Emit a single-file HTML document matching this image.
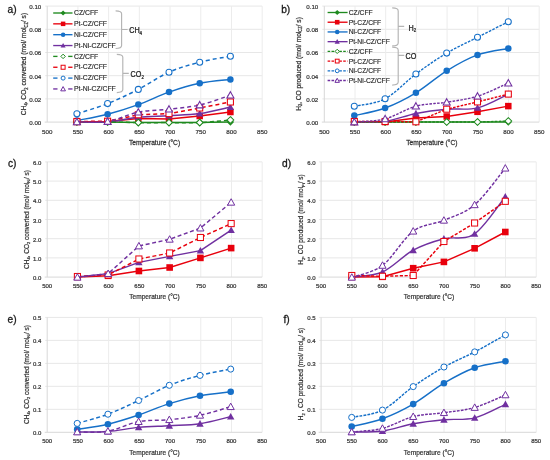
<!DOCTYPE html>
<html><head><meta charset="utf-8"><style>
html,body{margin:0;padding:0;background:#fff;}
svg{display:block;font-family:"Liberation Sans", sans-serif;will-change:transform;}
</style></head><body>
<svg width="550" height="460" viewBox="0 0 550 460">
<rect width="550" height="460" fill="#fff"/>
<line x1="45.2" y1="98.9" x2="262.17" y2="98.9" stroke="#e7e7e7" stroke-width="1"/>
<line x1="45.2" y1="75.7" x2="262.17" y2="75.7" stroke="#e7e7e7" stroke-width="1"/>
<line x1="45.2" y1="52.5" x2="262.17" y2="52.5" stroke="#e7e7e7" stroke-width="1"/>
<line x1="45.2" y1="29.3" x2="262.17" y2="29.3" stroke="#e7e7e7" stroke-width="1"/>
<line x1="45.2" y1="6.1" x2="262.17" y2="6.1" stroke="#e7e7e7" stroke-width="1"/>
<line x1="77.91" y1="6.1" x2="77.91" y2="122.1" stroke="#ececec" stroke-width="1"/>
<line x1="108.62" y1="6.1" x2="108.62" y2="122.1" stroke="#ececec" stroke-width="1"/>
<line x1="139.33" y1="6.1" x2="139.33" y2="122.1" stroke="#ececec" stroke-width="1"/>
<line x1="170.04" y1="6.1" x2="170.04" y2="122.1" stroke="#ececec" stroke-width="1"/>
<line x1="200.75" y1="6.1" x2="200.75" y2="122.1" stroke="#ececec" stroke-width="1"/>
<line x1="231.46" y1="6.1" x2="231.46" y2="122.1" stroke="#ececec" stroke-width="1"/>
<line x1="262.17" y1="6.1" x2="262.17" y2="122.1" stroke="#ececec" stroke-width="1"/>
<line x1="47.2" y1="6.1" x2="47.2" y2="122.1" stroke="#d8d8d8" stroke-width="1"/>
<line x1="44.7" y1="122.1" x2="262.17" y2="122.1" stroke="#d8d8d8" stroke-width="1"/>
<text x="41.3" y="124.9" font-size="6.2" fill="#333333" stroke="#333333" stroke-width="0.2" text-anchor="end" >0.00</text>
<text x="41.3" y="101.7" font-size="6.2" fill="#333333" stroke="#333333" stroke-width="0.2" text-anchor="end" >0.02</text>
<text x="41.3" y="78.5" font-size="6.2" fill="#333333" stroke="#333333" stroke-width="0.2" text-anchor="end" >0.04</text>
<text x="41.3" y="55.3" font-size="6.2" fill="#333333" stroke="#333333" stroke-width="0.2" text-anchor="end" >0.06</text>
<text x="41.3" y="32.1" font-size="6.2" fill="#333333" stroke="#333333" stroke-width="0.2" text-anchor="end" >0.08</text>
<text x="41.3" y="8.9" font-size="6.2" fill="#333333" stroke="#333333" stroke-width="0.2" text-anchor="end" >0.10</text>
<text x="47.2" y="134" font-size="6.2" fill="#333333" stroke="#333333" stroke-width="0.2" text-anchor="middle" >500</text>
<text x="77.91" y="134" font-size="6.2" fill="#333333" stroke="#333333" stroke-width="0.2" text-anchor="middle" >550</text>
<text x="108.62" y="134" font-size="6.2" fill="#333333" stroke="#333333" stroke-width="0.2" text-anchor="middle" >600</text>
<text x="139.33" y="134" font-size="6.2" fill="#333333" stroke="#333333" stroke-width="0.2" text-anchor="middle" >650</text>
<text x="170.04" y="134" font-size="6.2" fill="#333333" stroke="#333333" stroke-width="0.2" text-anchor="middle" >700</text>
<text x="200.75" y="134" font-size="6.2" fill="#333333" stroke="#333333" stroke-width="0.2" text-anchor="middle" >750</text>
<text x="231.46" y="134" font-size="6.2" fill="#333333" stroke="#333333" stroke-width="0.2" text-anchor="middle" >800</text>
<text x="262.17" y="134" font-size="6.2" fill="#333333" stroke="#333333" stroke-width="0.2" text-anchor="middle" >850</text>
<text transform="translate(154.5,145) scale(0.89,1)" font-size="7.504000000000001" fill="#333333" stroke="#333333" stroke-width="0.25" text-anchor="middle" >Temperature (°C)</text>
<text transform="translate(26.2,64) rotate(-90) scale(0.9,1)" font-size="7.37" fill="#333333" stroke="#333333" stroke-width="0.25" text-anchor="middle">CH<tspan font-size="4.5" dy="1.5">4</tspan><tspan dy="-1.5">, CO</tspan><tspan font-size="4.5" dy="1.5">2</tspan><tspan dy="-1.5"> converted (mol/ mol</tspan><tspan font-size="4.5" dy="1.5">CZ</tspan><tspan dy="-1.5">/ s)</tspan></text>
<text x="7.6" y="12.6" font-size="10.2" fill="#1a1a1a" stroke="#1a1a1a" stroke-width="0.3" text-anchor="start" >a)</text>
<path d="M76.9,122 C82.02,122 97.37,121.92 107.6,122 C117.83,122.08 128.07,122.42 138.3,122.5 C148.53,122.58 158.77,122.5 169,122.5 C179.23,122.5 189.47,122.58 199.7,122.5 C209.93,122.42 225.28,122.08 230.4,122" fill="none" stroke="#1f8a1f" stroke-width="1.5" stroke-linejoin="round"/>
<path d="M76.9,118.36 L80.54,122 L76.9,125.64 L73.26,122 Z" fill="#1f8a1f" stroke="#1f8a1f" stroke-width="0"/>
<path d="M107.6,118.36 L111.24,122 L107.6,125.64 L103.96,122 Z" fill="#1f8a1f" stroke="#1f8a1f" stroke-width="0"/>
<path d="M138.3,118.86 L141.94,122.5 L138.3,126.14 L134.66,122.5 Z" fill="#1f8a1f" stroke="#1f8a1f" stroke-width="0"/>
<path d="M169,118.86 L172.64,122.5 L169,126.14 L165.36,122.5 Z" fill="#1f8a1f" stroke="#1f8a1f" stroke-width="0"/>
<path d="M199.7,118.86 L203.34,122.5 L199.7,126.14 L196.06,122.5 Z" fill="#1f8a1f" stroke="#1f8a1f" stroke-width="0"/>
<path d="M230.4,118.36 L234.04,122 L230.4,125.64 L226.76,122 Z" fill="#1f8a1f" stroke="#1f8a1f" stroke-width="0"/>
<path d="M76.9,122 L107.6,121.5 L138.3,118.6 L169,119 L199.7,116 L230.4,112" fill="none" stroke="#e8000c" stroke-width="1.5" stroke-linejoin="round"/>
<rect x="73.65" y="118.75" width="6.5" height="6.5" fill="#e8000c" stroke="#e8000c" stroke-width="0"/>
<rect x="104.35" y="118.25" width="6.5" height="6.5" fill="#e8000c" stroke="#e8000c" stroke-width="0"/>
<rect x="135.05" y="115.35" width="6.5" height="6.5" fill="#e8000c" stroke="#e8000c" stroke-width="0"/>
<rect x="165.75" y="115.75" width="6.5" height="6.5" fill="#e8000c" stroke="#e8000c" stroke-width="0"/>
<rect x="196.45" y="112.75" width="6.5" height="6.5" fill="#e8000c" stroke="#e8000c" stroke-width="0"/>
<rect x="227.15" y="108.75" width="6.5" height="6.5" fill="#e8000c" stroke="#e8000c" stroke-width="0"/>
<path d="M76.9,120.5 C82.02,119.45 97.37,116.85 107.6,114.2 C117.83,111.55 128.07,108.28 138.3,104.6 C148.53,100.92 158.77,95.65 169,92.1 C179.23,88.55 189.47,85.4 199.7,83.3 C209.93,81.2 225.28,80.13 230.4,79.5" fill="none" stroke="#1670c8" stroke-width="1.5" stroke-linejoin="round"/>
<circle cx="76.9" cy="120.5" r="3.25" fill="#1670c8" stroke="#1670c8" stroke-width="0"/>
<circle cx="107.6" cy="114.2" r="3.25" fill="#1670c8" stroke="#1670c8" stroke-width="0"/>
<circle cx="138.3" cy="104.6" r="3.25" fill="#1670c8" stroke="#1670c8" stroke-width="0"/>
<circle cx="169" cy="92.1" r="3.25" fill="#1670c8" stroke="#1670c8" stroke-width="0"/>
<circle cx="199.7" cy="83.3" r="3.25" fill="#1670c8" stroke="#1670c8" stroke-width="0"/>
<circle cx="230.4" cy="79.5" r="3.25" fill="#1670c8" stroke="#1670c8" stroke-width="0"/>
<path d="M76.9,122 C82.02,122 97.37,122.8 107.6,122 C117.83,121.2 128.07,118.25 138.3,117.2 C148.53,116.15 158.77,116.3 169,115.7 C179.23,115.1 189.47,115.03 199.7,113.6 C209.93,112.17 225.28,108.18 230.4,107.1" fill="none" stroke="#7030a0" stroke-width="1.5" stroke-linejoin="round"/>
<path d="M76.9,118.36 L80.54,124.91 L73.26,124.91 Z" fill="#7030a0" stroke="#7030a0" stroke-width="0" stroke-linejoin="miter"/>
<path d="M107.6,118.36 L111.24,124.91 L103.96,124.91 Z" fill="#7030a0" stroke="#7030a0" stroke-width="0" stroke-linejoin="miter"/>
<path d="M138.3,113.56 L141.94,120.11 L134.66,120.11 Z" fill="#7030a0" stroke="#7030a0" stroke-width="0" stroke-linejoin="miter"/>
<path d="M169,112.06 L172.64,118.61 L165.36,118.61 Z" fill="#7030a0" stroke="#7030a0" stroke-width="0" stroke-linejoin="miter"/>
<path d="M199.7,109.96 L203.34,116.51 L196.06,116.51 Z" fill="#7030a0" stroke="#7030a0" stroke-width="0" stroke-linejoin="miter"/>
<path d="M230.4,103.46 L234.04,110.01 L226.76,110.01 Z" fill="#7030a0" stroke="#7030a0" stroke-width="0" stroke-linejoin="miter"/>
<path d="M76.9,122 C82.02,122 97.37,121.9 107.6,122 C117.83,122.1 128.07,122.5 138.3,122.6 C148.53,122.7 158.77,122.6 169,122.6 C179.23,122.6 189.47,123.03 199.7,122.6 C209.93,122.17 225.28,120.43 230.4,120" fill="none" stroke="#1f8a1f" stroke-width="1.5" stroke-dasharray="4,3" stroke-linejoin="round"/>
<path d="M76.9,118.62 L80.28,122 L76.9,125.38 L73.52,122 Z" fill="#fff" stroke="#1f8a1f" stroke-width="1.05"/>
<path d="M107.6,118.62 L110.98,122 L107.6,125.38 L104.22,122 Z" fill="#fff" stroke="#1f8a1f" stroke-width="1.05"/>
<path d="M138.3,119.22 L141.68,122.6 L138.3,125.98 L134.92,122.6 Z" fill="#fff" stroke="#1f8a1f" stroke-width="1.05"/>
<path d="M169,119.22 L172.38,122.6 L169,125.98 L165.62,122.6 Z" fill="#fff" stroke="#1f8a1f" stroke-width="1.05"/>
<path d="M199.7,119.22 L203.08,122.6 L199.7,125.98 L196.32,122.6 Z" fill="#fff" stroke="#1f8a1f" stroke-width="1.05"/>
<path d="M230.4,116.62 L233.78,120 L230.4,123.38 L227.02,120 Z" fill="#fff" stroke="#1f8a1f" stroke-width="1.05"/>
<path d="M76.9,121.5 L107.6,121.2 L138.3,114.8 L169,113.6 L199.7,108 L230.4,102" fill="none" stroke="#e8000c" stroke-width="1.5" stroke-dasharray="4,3" stroke-linejoin="round"/>
<rect x="73.88" y="118.47" width="6.05" height="6.05" fill="#fff" stroke="#e8000c" stroke-width="1.05"/>
<rect x="104.58" y="118.17" width="6.05" height="6.05" fill="#fff" stroke="#e8000c" stroke-width="1.05"/>
<rect x="135.28" y="111.77" width="6.05" height="6.05" fill="#fff" stroke="#e8000c" stroke-width="1.05"/>
<rect x="165.97" y="110.57" width="6.05" height="6.05" fill="#fff" stroke="#e8000c" stroke-width="1.05"/>
<rect x="196.67" y="104.97" width="6.05" height="6.05" fill="#fff" stroke="#e8000c" stroke-width="1.05"/>
<rect x="227.38" y="98.97" width="6.05" height="6.05" fill="#fff" stroke="#e8000c" stroke-width="1.05"/>
<path d="M76.9,113.8 C82.02,112.1 97.37,107.67 107.6,103.6 C117.83,99.53 128.07,94.63 138.3,89.4 C148.53,84.17 158.77,76.73 169,72.2 C179.23,67.67 189.47,64.87 199.7,62.2 C209.93,59.53 225.28,57.2 230.4,56.2" fill="none" stroke="#1670c8" stroke-width="1.5" stroke-dasharray="4,3" stroke-linejoin="round"/>
<circle cx="76.9" cy="113.8" r="3.02" fill="#fff" stroke="#1670c8" stroke-width="1.05"/>
<circle cx="107.6" cy="103.6" r="3.02" fill="#fff" stroke="#1670c8" stroke-width="1.05"/>
<circle cx="138.3" cy="89.4" r="3.02" fill="#fff" stroke="#1670c8" stroke-width="1.05"/>
<circle cx="169" cy="72.2" r="3.02" fill="#fff" stroke="#1670c8" stroke-width="1.05"/>
<circle cx="199.7" cy="62.2" r="3.02" fill="#fff" stroke="#1670c8" stroke-width="1.05"/>
<circle cx="230.4" cy="56.2" r="3.02" fill="#fff" stroke="#1670c8" stroke-width="1.05"/>
<path d="M76.9,121.8 C82.02,121.75 97.37,123.1 107.6,121.5 C117.83,119.9 128.07,114.25 138.3,112.2 C148.53,110.15 158.77,110.4 169,109.2 C179.23,108 189.47,107.33 199.7,105 C209.93,102.67 225.28,96.83 230.4,95.2" fill="none" stroke="#7030a0" stroke-width="1.5" stroke-dasharray="4,3" stroke-linejoin="round"/>
<path d="M76.9,118.24 L80.46,124.65 L73.34,124.65 Z" fill="#fff" stroke="#7030a0" stroke-width="1.05" stroke-linejoin="miter"/>
<path d="M107.6,117.94 L111.16,124.35 L104.04,124.35 Z" fill="#fff" stroke="#7030a0" stroke-width="1.05" stroke-linejoin="miter"/>
<path d="M138.3,108.64 L141.86,115.05 L134.74,115.05 Z" fill="#fff" stroke="#7030a0" stroke-width="1.05" stroke-linejoin="miter"/>
<path d="M169,105.64 L172.56,112.05 L165.44,112.05 Z" fill="#fff" stroke="#7030a0" stroke-width="1.05" stroke-linejoin="miter"/>
<path d="M199.7,101.44 L203.26,107.85 L196.14,107.85 Z" fill="#fff" stroke="#7030a0" stroke-width="1.05" stroke-linejoin="miter"/>
<path d="M230.4,91.64 L233.96,98.05 L226.84,98.05 Z" fill="#fff" stroke="#7030a0" stroke-width="1.05" stroke-linejoin="miter"/>
<line x1="322.3" y1="98.9" x2="539.2" y2="98.9" stroke="#e7e7e7" stroke-width="1"/>
<line x1="322.3" y1="75.7" x2="539.2" y2="75.7" stroke="#e7e7e7" stroke-width="1"/>
<line x1="322.3" y1="52.5" x2="539.2" y2="52.5" stroke="#e7e7e7" stroke-width="1"/>
<line x1="322.3" y1="29.3" x2="539.2" y2="29.3" stroke="#e7e7e7" stroke-width="1"/>
<line x1="322.3" y1="6.1" x2="539.2" y2="6.1" stroke="#e7e7e7" stroke-width="1"/>
<line x1="355" y1="6.1" x2="355" y2="122.1" stroke="#ececec" stroke-width="1"/>
<line x1="385.7" y1="6.1" x2="385.7" y2="122.1" stroke="#ececec" stroke-width="1"/>
<line x1="416.4" y1="6.1" x2="416.4" y2="122.1" stroke="#ececec" stroke-width="1"/>
<line x1="447.1" y1="6.1" x2="447.1" y2="122.1" stroke="#ececec" stroke-width="1"/>
<line x1="477.8" y1="6.1" x2="477.8" y2="122.1" stroke="#ececec" stroke-width="1"/>
<line x1="508.5" y1="6.1" x2="508.5" y2="122.1" stroke="#ececec" stroke-width="1"/>
<line x1="539.2" y1="6.1" x2="539.2" y2="122.1" stroke="#ececec" stroke-width="1"/>
<line x1="324.3" y1="6.1" x2="324.3" y2="122.1" stroke="#d8d8d8" stroke-width="1"/>
<line x1="321.8" y1="122.1" x2="539.2" y2="122.1" stroke="#d8d8d8" stroke-width="1"/>
<text x="318.3" y="124.9" font-size="6.2" fill="#333333" stroke="#333333" stroke-width="0.2" text-anchor="end" >0.00</text>
<text x="318.3" y="101.7" font-size="6.2" fill="#333333" stroke="#333333" stroke-width="0.2" text-anchor="end" >0.02</text>
<text x="318.3" y="78.5" font-size="6.2" fill="#333333" stroke="#333333" stroke-width="0.2" text-anchor="end" >0.04</text>
<text x="318.3" y="55.3" font-size="6.2" fill="#333333" stroke="#333333" stroke-width="0.2" text-anchor="end" >0.06</text>
<text x="318.3" y="32.1" font-size="6.2" fill="#333333" stroke="#333333" stroke-width="0.2" text-anchor="end" >0.08</text>
<text x="318.3" y="8.9" font-size="6.2" fill="#333333" stroke="#333333" stroke-width="0.2" text-anchor="end" >0.10</text>
<text x="324.3" y="134" font-size="6.2" fill="#333333" stroke="#333333" stroke-width="0.2" text-anchor="middle" >500</text>
<text x="355" y="134" font-size="6.2" fill="#333333" stroke="#333333" stroke-width="0.2" text-anchor="middle" >550</text>
<text x="385.7" y="134" font-size="6.2" fill="#333333" stroke="#333333" stroke-width="0.2" text-anchor="middle" >600</text>
<text x="416.4" y="134" font-size="6.2" fill="#333333" stroke="#333333" stroke-width="0.2" text-anchor="middle" >650</text>
<text x="447.1" y="134" font-size="6.2" fill="#333333" stroke="#333333" stroke-width="0.2" text-anchor="middle" >700</text>
<text x="477.8" y="134" font-size="6.2" fill="#333333" stroke="#333333" stroke-width="0.2" text-anchor="middle" >750</text>
<text x="508.5" y="134" font-size="6.2" fill="#333333" stroke="#333333" stroke-width="0.2" text-anchor="middle" >800</text>
<text x="539.2" y="134" font-size="6.2" fill="#333333" stroke="#333333" stroke-width="0.2" text-anchor="middle" >850</text>
<text transform="translate(431.8,145) scale(0.89,1)" font-size="7.504000000000001" fill="#333333" stroke="#333333" stroke-width="0.25" text-anchor="middle" >Temperature (°C)</text>
<text transform="translate(300.8,64) rotate(-90) scale(0.9,1)" font-size="7.37" fill="#333333" stroke="#333333" stroke-width="0.25" text-anchor="middle">H<tspan font-size="4.5" dy="1.5">2</tspan><tspan dy="-1.5">, CO produced (mol/ mol</tspan><tspan font-size="4.5" dy="1.5">CZ</tspan><tspan dy="-1.5">/ s)</tspan></text>
<text x="281.2" y="12.6" font-size="10.2" fill="#1a1a1a" stroke="#1a1a1a" stroke-width="0.3" text-anchor="start" >b)</text>
<path d="M354.3,122 C359.43,122 374.83,122 385.1,122 C395.37,122 405.63,122 415.9,122 C426.17,122 436.43,122 446.7,122 C456.97,122 467.23,122 477.5,122 C487.77,122 503.17,122 508.3,122" fill="none" stroke="#1f8a1f" stroke-width="1.4" stroke-linejoin="round"/>
<path d="M354.3,118.36 L357.94,122 L354.3,125.64 L350.66,122 Z" fill="#1f8a1f" stroke="#1f8a1f" stroke-width="0"/>
<path d="M385.1,118.36 L388.74,122 L385.1,125.64 L381.46,122 Z" fill="#1f8a1f" stroke="#1f8a1f" stroke-width="0"/>
<path d="M415.9,118.36 L419.54,122 L415.9,125.64 L412.26,122 Z" fill="#1f8a1f" stroke="#1f8a1f" stroke-width="0"/>
<path d="M446.7,118.36 L450.34,122 L446.7,125.64 L443.06,122 Z" fill="#1f8a1f" stroke="#1f8a1f" stroke-width="0"/>
<path d="M477.5,118.36 L481.14,122 L477.5,125.64 L473.86,122 Z" fill="#1f8a1f" stroke="#1f8a1f" stroke-width="0"/>
<path d="M508.3,118.36 L511.94,122 L508.3,125.64 L504.66,122 Z" fill="#1f8a1f" stroke="#1f8a1f" stroke-width="0"/>
<path d="M354.3,122 L385.1,122 L415.9,118 L446.7,116.5 L477.5,111.8 L508.3,106.1" fill="none" stroke="#e8000c" stroke-width="1.4" stroke-linejoin="round"/>
<rect x="351.05" y="118.75" width="6.5" height="6.5" fill="#e8000c" stroke="#e8000c" stroke-width="0"/>
<rect x="381.85" y="118.75" width="6.5" height="6.5" fill="#e8000c" stroke="#e8000c" stroke-width="0"/>
<rect x="412.65" y="114.75" width="6.5" height="6.5" fill="#e8000c" stroke="#e8000c" stroke-width="0"/>
<rect x="443.45" y="113.25" width="6.5" height="6.5" fill="#e8000c" stroke="#e8000c" stroke-width="0"/>
<rect x="474.25" y="108.55" width="6.5" height="6.5" fill="#e8000c" stroke="#e8000c" stroke-width="0"/>
<rect x="505.05" y="102.85" width="6.5" height="6.5" fill="#e8000c" stroke="#e8000c" stroke-width="0"/>
<path d="M354.3,115.6 C359.43,114.33 374.83,111.8 385.1,108 C395.37,104.2 405.63,99 415.9,92.8 C426.17,86.6 436.43,77.12 446.7,70.8 C456.97,64.48 467.23,58.62 477.5,54.9 C487.77,51.18 503.17,49.57 508.3,48.5" fill="none" stroke="#1670c8" stroke-width="1.4" stroke-linejoin="round"/>
<circle cx="354.3" cy="115.6" r="3.25" fill="#1670c8" stroke="#1670c8" stroke-width="0"/>
<circle cx="385.1" cy="108" r="3.25" fill="#1670c8" stroke="#1670c8" stroke-width="0"/>
<circle cx="415.9" cy="92.8" r="3.25" fill="#1670c8" stroke="#1670c8" stroke-width="0"/>
<circle cx="446.7" cy="70.8" r="3.25" fill="#1670c8" stroke="#1670c8" stroke-width="0"/>
<circle cx="477.5" cy="54.9" r="3.25" fill="#1670c8" stroke="#1670c8" stroke-width="0"/>
<circle cx="508.3" cy="48.5" r="3.25" fill="#1670c8" stroke="#1670c8" stroke-width="0"/>
<path d="M354.3,122 C359.43,121.92 374.83,122.92 385.1,121.5 C395.37,120.08 405.63,115.55 415.9,113.5 C426.17,111.45 436.43,110.13 446.7,109.2 C456.97,108.27 467.23,110.42 477.5,107.9 C487.77,105.38 503.17,96.4 508.3,94.1" fill="none" stroke="#7030a0" stroke-width="1.4" stroke-linejoin="round"/>
<path d="M354.3,118.36 L357.94,124.91 L350.66,124.91 Z" fill="#7030a0" stroke="#7030a0" stroke-width="0" stroke-linejoin="miter"/>
<path d="M385.1,117.86 L388.74,124.41 L381.46,124.41 Z" fill="#7030a0" stroke="#7030a0" stroke-width="0" stroke-linejoin="miter"/>
<path d="M415.9,109.86 L419.54,116.41 L412.26,116.41 Z" fill="#7030a0" stroke="#7030a0" stroke-width="0" stroke-linejoin="miter"/>
<path d="M446.7,105.56 L450.34,112.11 L443.06,112.11 Z" fill="#7030a0" stroke="#7030a0" stroke-width="0" stroke-linejoin="miter"/>
<path d="M477.5,104.26 L481.14,110.81 L473.86,110.81 Z" fill="#7030a0" stroke="#7030a0" stroke-width="0" stroke-linejoin="miter"/>
<path d="M508.3,90.46 L511.94,97.01 L504.66,97.01 Z" fill="#7030a0" stroke="#7030a0" stroke-width="0" stroke-linejoin="miter"/>
<path d="M354.3,122 C359.43,122 374.83,122 385.1,122 C395.37,122 405.63,122 415.9,122 C426.17,122 436.43,122 446.7,122 C456.97,122 467.23,122.17 477.5,122 C487.77,121.83 503.17,121.17 508.3,121" fill="none" stroke="#1f8a1f" stroke-width="1.4" stroke-dasharray="2.6,1.3" stroke-linejoin="round"/>
<path d="M354.3,118.62 L357.68,122 L354.3,125.38 L350.92,122 Z" fill="#fff" stroke="#1f8a1f" stroke-width="1.05"/>
<path d="M385.1,118.62 L388.48,122 L385.1,125.38 L381.72,122 Z" fill="#fff" stroke="#1f8a1f" stroke-width="1.05"/>
<path d="M415.9,118.62 L419.28,122 L415.9,125.38 L412.52,122 Z" fill="#fff" stroke="#1f8a1f" stroke-width="1.05"/>
<path d="M446.7,118.62 L450.08,122 L446.7,125.38 L443.32,122 Z" fill="#fff" stroke="#1f8a1f" stroke-width="1.05"/>
<path d="M477.5,118.62 L480.88,122 L477.5,125.38 L474.12,122 Z" fill="#fff" stroke="#1f8a1f" stroke-width="1.05"/>
<path d="M508.3,117.62 L511.68,121 L508.3,124.38 L504.92,121 Z" fill="#fff" stroke="#1f8a1f" stroke-width="1.05"/>
<path d="M354.3,121.5 L385.1,121.5 L415.9,121.8 L446.7,109.2 L477.5,101.9 L508.3,94.1" fill="none" stroke="#e8000c" stroke-width="1.4" stroke-dasharray="2.6,1.3" stroke-linejoin="round"/>
<rect x="351.28" y="118.47" width="6.05" height="6.05" fill="#fff" stroke="#e8000c" stroke-width="1.05"/>
<rect x="382.08" y="118.47" width="6.05" height="6.05" fill="#fff" stroke="#e8000c" stroke-width="1.05"/>
<rect x="412.88" y="118.77" width="6.05" height="6.05" fill="#fff" stroke="#e8000c" stroke-width="1.05"/>
<rect x="443.68" y="106.17" width="6.05" height="6.05" fill="#fff" stroke="#e8000c" stroke-width="1.05"/>
<rect x="474.48" y="98.88" width="6.05" height="6.05" fill="#fff" stroke="#e8000c" stroke-width="1.05"/>
<rect x="505.28" y="91.07" width="6.05" height="6.05" fill="#fff" stroke="#e8000c" stroke-width="1.05"/>
<path d="M354.3,106.3 C359.43,105.05 374.83,104.18 385.1,98.8 C395.37,93.42 405.63,81.62 415.9,74 C426.17,66.38 436.43,59.22 446.7,53.1 C456.97,46.98 467.23,42.53 477.5,37.3 C487.77,32.07 503.17,24.3 508.3,21.7" fill="none" stroke="#1670c8" stroke-width="1.4" stroke-dasharray="2.6,1.3" stroke-linejoin="round"/>
<circle cx="354.3" cy="106.3" r="3.02" fill="#fff" stroke="#1670c8" stroke-width="1.05"/>
<circle cx="385.1" cy="98.8" r="3.02" fill="#fff" stroke="#1670c8" stroke-width="1.05"/>
<circle cx="415.9" cy="74" r="3.02" fill="#fff" stroke="#1670c8" stroke-width="1.05"/>
<circle cx="446.7" cy="53.1" r="3.02" fill="#fff" stroke="#1670c8" stroke-width="1.05"/>
<circle cx="477.5" cy="37.3" r="3.02" fill="#fff" stroke="#1670c8" stroke-width="1.05"/>
<circle cx="508.3" cy="21.7" r="3.02" fill="#fff" stroke="#1670c8" stroke-width="1.05"/>
<path d="M354.3,122 C359.43,121.48 374.83,121.53 385.1,118.9 C395.37,116.27 405.63,108.98 415.9,106.2 C426.17,103.42 436.43,103.87 446.7,102.2 C456.97,100.53 467.23,99.38 477.5,96.2 C487.77,93.02 503.17,85.28 508.3,83.1" fill="none" stroke="#7030a0" stroke-width="1.4" stroke-dasharray="2.6,1.3" stroke-linejoin="round"/>
<path d="M354.3,118.44 L357.86,124.85 L350.74,124.85 Z" fill="#fff" stroke="#7030a0" stroke-width="1.05" stroke-linejoin="miter"/>
<path d="M385.1,115.34 L388.66,121.75 L381.54,121.75 Z" fill="#fff" stroke="#7030a0" stroke-width="1.05" stroke-linejoin="miter"/>
<path d="M415.9,102.64 L419.46,109.05 L412.34,109.05 Z" fill="#fff" stroke="#7030a0" stroke-width="1.05" stroke-linejoin="miter"/>
<path d="M446.7,98.64 L450.26,105.05 L443.14,105.05 Z" fill="#fff" stroke="#7030a0" stroke-width="1.05" stroke-linejoin="miter"/>
<path d="M477.5,92.64 L481.06,99.05 L473.94,99.05 Z" fill="#fff" stroke="#7030a0" stroke-width="1.05" stroke-linejoin="miter"/>
<path d="M508.3,79.54 L511.86,85.95 L504.74,85.95 Z" fill="#fff" stroke="#7030a0" stroke-width="1.05" stroke-linejoin="miter"/>
<line x1="45.2" y1="257.9" x2="262.17" y2="257.9" stroke="#e7e7e7" stroke-width="1"/>
<line x1="45.2" y1="238.7" x2="262.17" y2="238.7" stroke="#e7e7e7" stroke-width="1"/>
<line x1="45.2" y1="219.5" x2="262.17" y2="219.5" stroke="#e7e7e7" stroke-width="1"/>
<line x1="45.2" y1="200.3" x2="262.17" y2="200.3" stroke="#e7e7e7" stroke-width="1"/>
<line x1="45.2" y1="181.1" x2="262.17" y2="181.1" stroke="#e7e7e7" stroke-width="1"/>
<line x1="45.2" y1="161.9" x2="262.17" y2="161.9" stroke="#e7e7e7" stroke-width="1"/>
<line x1="77.91" y1="161.9" x2="77.91" y2="277.1" stroke="#ececec" stroke-width="1"/>
<line x1="108.62" y1="161.9" x2="108.62" y2="277.1" stroke="#ececec" stroke-width="1"/>
<line x1="139.33" y1="161.9" x2="139.33" y2="277.1" stroke="#ececec" stroke-width="1"/>
<line x1="170.04" y1="161.9" x2="170.04" y2="277.1" stroke="#ececec" stroke-width="1"/>
<line x1="200.75" y1="161.9" x2="200.75" y2="277.1" stroke="#ececec" stroke-width="1"/>
<line x1="231.46" y1="161.9" x2="231.46" y2="277.1" stroke="#ececec" stroke-width="1"/>
<line x1="262.17" y1="161.9" x2="262.17" y2="277.1" stroke="#ececec" stroke-width="1"/>
<line x1="47.2" y1="161.9" x2="47.2" y2="277.1" stroke="#d8d8d8" stroke-width="1"/>
<line x1="44.7" y1="277.1" x2="262.17" y2="277.1" stroke="#d8d8d8" stroke-width="1"/>
<text x="41.3" y="280.1" font-size="6.0" fill="#333333" stroke="#333333" stroke-width="0.22" text-anchor="end" >0.0</text>
<text x="41.3" y="260.9" font-size="6.0" fill="#333333" stroke="#333333" stroke-width="0.22" text-anchor="end" >1.0</text>
<text x="41.3" y="241.7" font-size="6.0" fill="#333333" stroke="#333333" stroke-width="0.22" text-anchor="end" >2.0</text>
<text x="41.3" y="222.5" font-size="6.0" fill="#333333" stroke="#333333" stroke-width="0.22" text-anchor="end" >3.0</text>
<text x="41.3" y="203.3" font-size="6.0" fill="#333333" stroke="#333333" stroke-width="0.22" text-anchor="end" >4.0</text>
<text x="41.3" y="184.1" font-size="6.0" fill="#333333" stroke="#333333" stroke-width="0.22" text-anchor="end" >5.0</text>
<text x="41.3" y="164.9" font-size="6.0" fill="#333333" stroke="#333333" stroke-width="0.22" text-anchor="end" >6.0</text>
<text x="47.2" y="288" font-size="6.0" fill="#333333" stroke="#333333" stroke-width="0.22" text-anchor="middle" >500</text>
<text x="77.91" y="288" font-size="6.0" fill="#333333" stroke="#333333" stroke-width="0.22" text-anchor="middle" >550</text>
<text x="108.62" y="288" font-size="6.0" fill="#333333" stroke="#333333" stroke-width="0.22" text-anchor="middle" >600</text>
<text x="139.33" y="288" font-size="6.0" fill="#333333" stroke="#333333" stroke-width="0.22" text-anchor="middle" >650</text>
<text x="170.04" y="288" font-size="6.0" fill="#333333" stroke="#333333" stroke-width="0.22" text-anchor="middle" >700</text>
<text x="200.75" y="288" font-size="6.0" fill="#333333" stroke="#333333" stroke-width="0.22" text-anchor="middle" >750</text>
<text x="231.46" y="288" font-size="6.0" fill="#333333" stroke="#333333" stroke-width="0.22" text-anchor="middle" >800</text>
<text x="262.17" y="288" font-size="6.0" fill="#333333" stroke="#333333" stroke-width="0.22" text-anchor="middle" >850</text>
<text transform="translate(154.5,298.8) scale(0.89,1)" font-size="7.392" fill="#333333" stroke="#333333" stroke-width="0.22" text-anchor="middle" >Temperature (°C)</text>
<text transform="translate(28.8,219.5) rotate(-90) scale(0.9,1)" font-size="7.26" fill="#333333" stroke="#333333" stroke-width="0.22" text-anchor="middle">CH<tspan font-size="4.3" dy="1.4">4</tspan><tspan dy="-1.4">, CO</tspan><tspan font-size="4.3" dy="1.4">2</tspan><tspan dy="-1.4"> converted (mol/ mol</tspan><tspan font-size="4.3" dy="1.4">Ni</tspan><tspan dy="-1.4">/ s)</tspan></text>
<text x="8" y="167.4" font-size="10.2" fill="#1a1a1a" stroke="#1a1a1a" stroke-width="0.3" text-anchor="start" >c)</text>
<path d="M77.4,277 L108.15,275.8 L138.9,271 L169.65,267.5 L200.4,257.9 L231.15,248.1" fill="none" stroke="#e8000c" stroke-width="1.45" stroke-linejoin="round"/>
<rect x="74.1" y="273.7" width="6.6" height="6.6" fill="#e8000c" stroke="#e8000c" stroke-width="0"/>
<rect x="104.85" y="272.5" width="6.6" height="6.6" fill="#e8000c" stroke="#e8000c" stroke-width="0"/>
<rect x="135.6" y="267.7" width="6.6" height="6.6" fill="#e8000c" stroke="#e8000c" stroke-width="0"/>
<rect x="166.35" y="264.2" width="6.6" height="6.6" fill="#e8000c" stroke="#e8000c" stroke-width="0"/>
<rect x="197.1" y="254.6" width="6.6" height="6.6" fill="#e8000c" stroke="#e8000c" stroke-width="0"/>
<rect x="227.85" y="244.8" width="6.6" height="6.6" fill="#e8000c" stroke="#e8000c" stroke-width="0"/>
<path d="M77.4,277 L108.15,273.6 L138.9,262.4 L169.65,256.4 L200.4,250.6 L231.15,230.1" fill="none" stroke="#7030a0" stroke-width="1.45" stroke-linejoin="round"/>
<path d="M77.4,273.3 L81.1,279.96 L73.7,279.96 Z" fill="#7030a0" stroke="#7030a0" stroke-width="0" stroke-linejoin="miter"/>
<path d="M108.15,269.9 L111.85,276.56 L104.45,276.56 Z" fill="#7030a0" stroke="#7030a0" stroke-width="0" stroke-linejoin="miter"/>
<path d="M138.9,258.7 L142.6,265.36 L135.2,265.36 Z" fill="#7030a0" stroke="#7030a0" stroke-width="0" stroke-linejoin="miter"/>
<path d="M169.65,252.7 L173.35,259.36 L165.95,259.36 Z" fill="#7030a0" stroke="#7030a0" stroke-width="0" stroke-linejoin="miter"/>
<path d="M200.4,246.9 L204.1,253.56 L196.7,253.56 Z" fill="#7030a0" stroke="#7030a0" stroke-width="0" stroke-linejoin="miter"/>
<path d="M231.15,226.4 L234.85,233.06 L227.45,233.06 Z" fill="#7030a0" stroke="#7030a0" stroke-width="0" stroke-linejoin="miter"/>
<path d="M77.4,276.5 L108.15,275 L138.9,259 L169.65,253 L200.4,237.5 L231.15,223.6" fill="none" stroke="#e8000c" stroke-width="1.45" stroke-dasharray="4,2.6" stroke-linejoin="round"/>
<rect x="74.35" y="273.45" width="6.1" height="6.1" fill="#fff" stroke="#e8000c" stroke-width="1.0"/>
<rect x="105.1" y="271.95" width="6.1" height="6.1" fill="#fff" stroke="#e8000c" stroke-width="1.0"/>
<rect x="135.85" y="255.95" width="6.1" height="6.1" fill="#fff" stroke="#e8000c" stroke-width="1.0"/>
<rect x="166.6" y="249.95" width="6.1" height="6.1" fill="#fff" stroke="#e8000c" stroke-width="1.0"/>
<rect x="197.35" y="234.45" width="6.1" height="6.1" fill="#fff" stroke="#e8000c" stroke-width="1.0"/>
<rect x="228.1" y="220.55" width="6.1" height="6.1" fill="#fff" stroke="#e8000c" stroke-width="1.0"/>
<path d="M77.4,277.3 L108.15,273.6 L138.9,246 L169.65,239.3 L200.4,228.1 L231.15,202.3" fill="none" stroke="#7030a0" stroke-width="1.45" stroke-dasharray="4,2.6" stroke-linejoin="round"/>
<path d="M77.4,273.72 L80.98,280.17 L73.82,280.17 Z" fill="#fff" stroke="#7030a0" stroke-width="1.0" stroke-linejoin="miter"/>
<path d="M108.15,270.02 L111.73,276.47 L104.57,276.47 Z" fill="#fff" stroke="#7030a0" stroke-width="1.0" stroke-linejoin="miter"/>
<path d="M138.9,242.42 L142.48,248.87 L135.32,248.87 Z" fill="#fff" stroke="#7030a0" stroke-width="1.0" stroke-linejoin="miter"/>
<path d="M169.65,235.72 L173.23,242.17 L166.07,242.17 Z" fill="#fff" stroke="#7030a0" stroke-width="1.0" stroke-linejoin="miter"/>
<path d="M200.4,224.52 L203.98,230.97 L196.82,230.97 Z" fill="#fff" stroke="#7030a0" stroke-width="1.0" stroke-linejoin="miter"/>
<path d="M231.15,198.72 L234.73,205.17 L227.57,205.17 Z" fill="#fff" stroke="#7030a0" stroke-width="1.0" stroke-linejoin="miter"/>
<line x1="319.1" y1="257.9" x2="536.21" y2="257.9" stroke="#e7e7e7" stroke-width="1"/>
<line x1="319.1" y1="238.7" x2="536.21" y2="238.7" stroke="#e7e7e7" stroke-width="1"/>
<line x1="319.1" y1="219.5" x2="536.21" y2="219.5" stroke="#e7e7e7" stroke-width="1"/>
<line x1="319.1" y1="200.3" x2="536.21" y2="200.3" stroke="#e7e7e7" stroke-width="1"/>
<line x1="319.1" y1="181.1" x2="536.21" y2="181.1" stroke="#e7e7e7" stroke-width="1"/>
<line x1="319.1" y1="161.9" x2="536.21" y2="161.9" stroke="#e7e7e7" stroke-width="1"/>
<line x1="351.83" y1="161.9" x2="351.83" y2="277.1" stroke="#ececec" stroke-width="1"/>
<line x1="382.56" y1="161.9" x2="382.56" y2="277.1" stroke="#ececec" stroke-width="1"/>
<line x1="413.29" y1="161.9" x2="413.29" y2="277.1" stroke="#ececec" stroke-width="1"/>
<line x1="444.02" y1="161.9" x2="444.02" y2="277.1" stroke="#ececec" stroke-width="1"/>
<line x1="474.75" y1="161.9" x2="474.75" y2="277.1" stroke="#ececec" stroke-width="1"/>
<line x1="505.48" y1="161.9" x2="505.48" y2="277.1" stroke="#ececec" stroke-width="1"/>
<line x1="536.21" y1="161.9" x2="536.21" y2="277.1" stroke="#ececec" stroke-width="1"/>
<line x1="321.1" y1="161.9" x2="321.1" y2="277.1" stroke="#d8d8d8" stroke-width="1"/>
<line x1="318.6" y1="277.1" x2="536.21" y2="277.1" stroke="#d8d8d8" stroke-width="1"/>
<text x="315.5" y="280.1" font-size="6.0" fill="#333333" stroke="#333333" stroke-width="0.22" text-anchor="end" >0.0</text>
<text x="315.5" y="260.9" font-size="6.0" fill="#333333" stroke="#333333" stroke-width="0.22" text-anchor="end" >1.0</text>
<text x="315.5" y="241.7" font-size="6.0" fill="#333333" stroke="#333333" stroke-width="0.22" text-anchor="end" >2.0</text>
<text x="315.5" y="222.5" font-size="6.0" fill="#333333" stroke="#333333" stroke-width="0.22" text-anchor="end" >3.0</text>
<text x="315.5" y="203.3" font-size="6.0" fill="#333333" stroke="#333333" stroke-width="0.22" text-anchor="end" >4.0</text>
<text x="315.5" y="184.1" font-size="6.0" fill="#333333" stroke="#333333" stroke-width="0.22" text-anchor="end" >5.0</text>
<text x="315.5" y="164.9" font-size="6.0" fill="#333333" stroke="#333333" stroke-width="0.22" text-anchor="end" >6.0</text>
<text x="321.1" y="288" font-size="6.0" fill="#333333" stroke="#333333" stroke-width="0.22" text-anchor="middle" >500</text>
<text x="351.83" y="288" font-size="6.0" fill="#333333" stroke="#333333" stroke-width="0.22" text-anchor="middle" >550</text>
<text x="382.56" y="288" font-size="6.0" fill="#333333" stroke="#333333" stroke-width="0.22" text-anchor="middle" >600</text>
<text x="413.29" y="288" font-size="6.0" fill="#333333" stroke="#333333" stroke-width="0.22" text-anchor="middle" >650</text>
<text x="444.02" y="288" font-size="6.0" fill="#333333" stroke="#333333" stroke-width="0.22" text-anchor="middle" >700</text>
<text x="474.75" y="288" font-size="6.0" fill="#333333" stroke="#333333" stroke-width="0.22" text-anchor="middle" >750</text>
<text x="505.48" y="288" font-size="6.0" fill="#333333" stroke="#333333" stroke-width="0.22" text-anchor="middle" >800</text>
<text x="536.21" y="288" font-size="6.0" fill="#333333" stroke="#333333" stroke-width="0.22" text-anchor="middle" >850</text>
<text transform="translate(429,298.8) scale(0.89,1)" font-size="7.392" fill="#333333" stroke="#333333" stroke-width="0.22" text-anchor="middle" >Temperature (°C)</text>
<text transform="translate(303.3,219.5) rotate(-90) scale(0.9,1)" font-size="7.26" fill="#333333" stroke="#333333" stroke-width="0.22" text-anchor="middle">H<tspan font-size="4.3" dy="1.4">2</tspan><tspan dy="-1.4">, CO produced (mol/ mol</tspan><tspan font-size="4.3" dy="1.4">Pt</tspan><tspan dy="-1.4">/ s)</tspan></text>
<text x="282" y="167.2" font-size="10.2" fill="#1a1a1a" stroke="#1a1a1a" stroke-width="0.3" text-anchor="start" >d)</text>
<path d="M351.8,277 L382.5,276.8 L413.2,268.2 L443.9,261.9 L474.6,248.3 L505.3,232" fill="none" stroke="#e8000c" stroke-width="1.45" stroke-linejoin="round"/>
<rect x="348.5" y="273.7" width="6.6" height="6.6" fill="#e8000c" stroke="#e8000c" stroke-width="0"/>
<rect x="379.2" y="273.5" width="6.6" height="6.6" fill="#e8000c" stroke="#e8000c" stroke-width="0"/>
<rect x="409.9" y="264.9" width="6.6" height="6.6" fill="#e8000c" stroke="#e8000c" stroke-width="0"/>
<rect x="440.6" y="258.6" width="6.6" height="6.6" fill="#e8000c" stroke="#e8000c" stroke-width="0"/>
<rect x="471.3" y="245" width="6.6" height="6.6" fill="#e8000c" stroke="#e8000c" stroke-width="0"/>
<rect x="502" y="228.7" width="6.6" height="6.6" fill="#e8000c" stroke="#e8000c" stroke-width="0"/>
<path d="M351.8,277 C356.92,276.17 372.27,276.47 382.5,272 C392.73,267.53 402.97,255.73 413.2,250.2 C423.43,244.67 433.67,241.52 443.9,238.8 C454.13,236.08 464.37,240.92 474.6,233.9 C484.83,226.88 500.18,202.9 505.3,196.7" fill="none" stroke="#7030a0" stroke-width="1.45" stroke-linejoin="round"/>
<path d="M351.8,273.3 L355.5,279.96 L348.1,279.96 Z" fill="#7030a0" stroke="#7030a0" stroke-width="0" stroke-linejoin="miter"/>
<path d="M382.5,268.3 L386.2,274.96 L378.8,274.96 Z" fill="#7030a0" stroke="#7030a0" stroke-width="0" stroke-linejoin="miter"/>
<path d="M413.2,246.5 L416.9,253.16 L409.5,253.16 Z" fill="#7030a0" stroke="#7030a0" stroke-width="0" stroke-linejoin="miter"/>
<path d="M443.9,235.1 L447.6,241.76 L440.2,241.76 Z" fill="#7030a0" stroke="#7030a0" stroke-width="0" stroke-linejoin="miter"/>
<path d="M474.6,230.2 L478.3,236.86 L470.9,236.86 Z" fill="#7030a0" stroke="#7030a0" stroke-width="0" stroke-linejoin="miter"/>
<path d="M505.3,193 L509,199.66 L501.6,199.66 Z" fill="#7030a0" stroke="#7030a0" stroke-width="0" stroke-linejoin="miter"/>
<path d="M351.8,275.5 L382.5,276.3 L413.2,275.5 L443.9,241.5 L474.6,223 L505.3,201.3" fill="none" stroke="#e8000c" stroke-width="1.45" stroke-dasharray="3.2,1.6" stroke-linejoin="round"/>
<rect x="348.75" y="272.45" width="6.1" height="6.1" fill="#fff" stroke="#e8000c" stroke-width="1.0"/>
<rect x="379.45" y="273.25" width="6.1" height="6.1" fill="#fff" stroke="#e8000c" stroke-width="1.0"/>
<rect x="410.15" y="272.45" width="6.1" height="6.1" fill="#fff" stroke="#e8000c" stroke-width="1.0"/>
<rect x="440.85" y="238.45" width="6.1" height="6.1" fill="#fff" stroke="#e8000c" stroke-width="1.0"/>
<rect x="471.55" y="219.95" width="6.1" height="6.1" fill="#fff" stroke="#e8000c" stroke-width="1.0"/>
<rect x="502.25" y="198.25" width="6.1" height="6.1" fill="#fff" stroke="#e8000c" stroke-width="1.0"/>
<path d="M351.8,277.3 C356.92,275.32 372.27,273.08 382.5,265.4 C392.73,257.72 402.97,238.72 413.2,231.2 C423.43,223.68 433.67,224.7 443.9,220.3 C454.13,215.9 464.37,213.48 474.6,204.8 C484.83,196.12 500.18,174.3 505.3,168.2" fill="none" stroke="#7030a0" stroke-width="1.45" stroke-dasharray="3.2,1.6" stroke-linejoin="round"/>
<path d="M351.8,273.72 L355.38,280.17 L348.22,280.17 Z" fill="#fff" stroke="#7030a0" stroke-width="1.0" stroke-linejoin="miter"/>
<path d="M382.5,261.82 L386.08,268.27 L378.92,268.27 Z" fill="#fff" stroke="#7030a0" stroke-width="1.0" stroke-linejoin="miter"/>
<path d="M413.2,227.62 L416.78,234.07 L409.62,234.07 Z" fill="#fff" stroke="#7030a0" stroke-width="1.0" stroke-linejoin="miter"/>
<path d="M443.9,216.72 L447.48,223.17 L440.32,223.17 Z" fill="#fff" stroke="#7030a0" stroke-width="1.0" stroke-linejoin="miter"/>
<path d="M474.6,201.22 L478.18,207.67 L471.02,207.67 Z" fill="#fff" stroke="#7030a0" stroke-width="1.0" stroke-linejoin="miter"/>
<path d="M505.3,164.62 L508.88,171.07 L501.72,171.07 Z" fill="#fff" stroke="#7030a0" stroke-width="1.0" stroke-linejoin="miter"/>
<line x1="45.2" y1="409.32" x2="262.17" y2="409.32" stroke="#e7e7e7" stroke-width="1"/>
<line x1="45.2" y1="386.34" x2="262.17" y2="386.34" stroke="#e7e7e7" stroke-width="1"/>
<line x1="45.2" y1="363.36" x2="262.17" y2="363.36" stroke="#e7e7e7" stroke-width="1"/>
<line x1="45.2" y1="340.38" x2="262.17" y2="340.38" stroke="#e7e7e7" stroke-width="1"/>
<line x1="45.2" y1="317.4" x2="262.17" y2="317.4" stroke="#e7e7e7" stroke-width="1"/>
<line x1="77.91" y1="317.4" x2="77.91" y2="432.3" stroke="#ececec" stroke-width="1"/>
<line x1="108.62" y1="317.4" x2="108.62" y2="432.3" stroke="#ececec" stroke-width="1"/>
<line x1="139.33" y1="317.4" x2="139.33" y2="432.3" stroke="#ececec" stroke-width="1"/>
<line x1="170.04" y1="317.4" x2="170.04" y2="432.3" stroke="#ececec" stroke-width="1"/>
<line x1="200.75" y1="317.4" x2="200.75" y2="432.3" stroke="#ececec" stroke-width="1"/>
<line x1="231.46" y1="317.4" x2="231.46" y2="432.3" stroke="#ececec" stroke-width="1"/>
<line x1="262.17" y1="317.4" x2="262.17" y2="432.3" stroke="#ececec" stroke-width="1"/>
<line x1="47.2" y1="317.4" x2="47.2" y2="432.3" stroke="#d8d8d8" stroke-width="1"/>
<line x1="44.7" y1="432.3" x2="262.17" y2="432.3" stroke="#d8d8d8" stroke-width="1"/>
<text x="41.3" y="434.9" font-size="6.0" fill="#333333" stroke="#333333" stroke-width="0.22" text-anchor="end" >0.0</text>
<text x="41.3" y="411.92" font-size="6.0" fill="#333333" stroke="#333333" stroke-width="0.22" text-anchor="end" >0.1</text>
<text x="41.3" y="388.94" font-size="6.0" fill="#333333" stroke="#333333" stroke-width="0.22" text-anchor="end" >0.2</text>
<text x="41.3" y="365.96" font-size="6.0" fill="#333333" stroke="#333333" stroke-width="0.22" text-anchor="end" >0.3</text>
<text x="41.3" y="342.98" font-size="6.0" fill="#333333" stroke="#333333" stroke-width="0.22" text-anchor="end" >0.4</text>
<text x="41.3" y="320" font-size="6.0" fill="#333333" stroke="#333333" stroke-width="0.22" text-anchor="end" >0.5</text>
<text x="47.2" y="442.7" font-size="6.0" fill="#333333" stroke="#333333" stroke-width="0.22" text-anchor="middle" >500</text>
<text x="77.91" y="442.7" font-size="6.0" fill="#333333" stroke="#333333" stroke-width="0.22" text-anchor="middle" >550</text>
<text x="108.62" y="442.7" font-size="6.0" fill="#333333" stroke="#333333" stroke-width="0.22" text-anchor="middle" >600</text>
<text x="139.33" y="442.7" font-size="6.0" fill="#333333" stroke="#333333" stroke-width="0.22" text-anchor="middle" >650</text>
<text x="170.04" y="442.7" font-size="6.0" fill="#333333" stroke="#333333" stroke-width="0.22" text-anchor="middle" >700</text>
<text x="200.75" y="442.7" font-size="6.0" fill="#333333" stroke="#333333" stroke-width="0.22" text-anchor="middle" >750</text>
<text x="231.46" y="442.7" font-size="6.0" fill="#333333" stroke="#333333" stroke-width="0.22" text-anchor="middle" >800</text>
<text x="262.17" y="442.7" font-size="6.0" fill="#333333" stroke="#333333" stroke-width="0.22" text-anchor="middle" >850</text>
<text transform="translate(154.5,454.5) scale(0.89,1)" font-size="7.392" fill="#333333" stroke="#333333" stroke-width="0.22" text-anchor="middle" >Temperature (°C)</text>
<text transform="translate(28.8,374.5) rotate(-90) scale(0.9,1)" font-size="7.26" fill="#333333" stroke="#333333" stroke-width="0.22" text-anchor="middle">CH<tspan font-size="4.3" dy="1.4">4</tspan><tspan dy="-1.4">, CO</tspan><tspan font-size="4.3" dy="1.4">2</tspan><tspan dy="-1.4"> converted (mol/ mol</tspan><tspan font-size="4.3" dy="1.4">Ni</tspan><tspan dy="-1.4">/ s)</tspan></text>
<text x="7.6" y="322.8" font-size="10.2" fill="#1a1a1a" stroke="#1a1a1a" stroke-width="0.3" text-anchor="start" >e)</text>
<path d="M77.2,429.4 C82.32,428.53 97.67,426.6 107.9,424.2 C118.13,421.8 128.37,418.43 138.6,415 C148.83,411.57 159.07,406.82 169.3,403.6 C179.53,400.38 189.77,397.67 200,395.7 C210.23,393.73 225.58,392.45 230.7,391.8" fill="none" stroke="#1670c8" stroke-width="1.45" stroke-linejoin="round"/>
<circle cx="77.2" cy="429.4" r="3.3" fill="#1670c8" stroke="#1670c8" stroke-width="0"/>
<circle cx="107.9" cy="424.2" r="3.3" fill="#1670c8" stroke="#1670c8" stroke-width="0"/>
<circle cx="138.6" cy="415" r="3.3" fill="#1670c8" stroke="#1670c8" stroke-width="0"/>
<circle cx="169.3" cy="403.6" r="3.3" fill="#1670c8" stroke="#1670c8" stroke-width="0"/>
<circle cx="200" cy="395.7" r="3.3" fill="#1670c8" stroke="#1670c8" stroke-width="0"/>
<circle cx="230.7" cy="391.8" r="3.3" fill="#1670c8" stroke="#1670c8" stroke-width="0"/>
<path d="M77.2,432 C82.32,431.92 97.67,432.27 107.9,431.5 C118.13,430.73 128.37,428.37 138.6,427.4 C148.83,426.43 159.07,426.32 169.3,425.7 C179.53,425.08 189.77,425.22 200,423.7 C210.23,422.18 225.58,417.78 230.7,416.6" fill="none" stroke="#7030a0" stroke-width="1.45" stroke-linejoin="round"/>
<path d="M77.2,428.3 L80.9,434.96 L73.5,434.96 Z" fill="#7030a0" stroke="#7030a0" stroke-width="0" stroke-linejoin="miter"/>
<path d="M107.9,427.8 L111.6,434.46 L104.2,434.46 Z" fill="#7030a0" stroke="#7030a0" stroke-width="0" stroke-linejoin="miter"/>
<path d="M138.6,423.7 L142.3,430.36 L134.9,430.36 Z" fill="#7030a0" stroke="#7030a0" stroke-width="0" stroke-linejoin="miter"/>
<path d="M169.3,422 L173,428.66 L165.6,428.66 Z" fill="#7030a0" stroke="#7030a0" stroke-width="0" stroke-linejoin="miter"/>
<path d="M200,420 L203.7,426.66 L196.3,426.66 Z" fill="#7030a0" stroke="#7030a0" stroke-width="0" stroke-linejoin="miter"/>
<path d="M230.7,412.9 L234.4,419.56 L227,419.56 Z" fill="#7030a0" stroke="#7030a0" stroke-width="0" stroke-linejoin="miter"/>
<path d="M77.2,423.4 C82.32,421.87 97.67,418.02 107.9,414.2 C118.13,410.38 128.37,405.32 138.6,400.5 C148.83,395.68 159.07,389.48 169.3,385.3 C179.53,381.12 189.77,378.1 200,375.4 C210.23,372.7 225.58,370.15 230.7,369.1" fill="none" stroke="#1670c8" stroke-width="1.45" stroke-dasharray="4,2.6" stroke-linejoin="round"/>
<circle cx="77.2" cy="423.4" r="3.05" fill="#fff" stroke="#1670c8" stroke-width="1.0"/>
<circle cx="107.9" cy="414.2" r="3.05" fill="#fff" stroke="#1670c8" stroke-width="1.0"/>
<circle cx="138.6" cy="400.5" r="3.05" fill="#fff" stroke="#1670c8" stroke-width="1.0"/>
<circle cx="169.3" cy="385.3" r="3.05" fill="#fff" stroke="#1670c8" stroke-width="1.0"/>
<circle cx="200" cy="375.4" r="3.05" fill="#fff" stroke="#1670c8" stroke-width="1.0"/>
<circle cx="230.7" cy="369.1" r="3.05" fill="#fff" stroke="#1670c8" stroke-width="1.0"/>
<path d="M77.2,432 C82.32,431.87 97.67,432.93 107.9,431.2 C118.13,429.47 128.37,423.52 138.6,421.6 C148.83,419.68 159.07,420.75 169.3,419.7 C179.53,418.65 189.77,417.47 200,415.3 C210.23,413.13 225.58,408.13 230.7,406.7" fill="none" stroke="#7030a0" stroke-width="1.45" stroke-dasharray="4,2.6" stroke-linejoin="round"/>
<path d="M77.2,428.42 L80.78,434.87 L73.62,434.87 Z" fill="#fff" stroke="#7030a0" stroke-width="1.0" stroke-linejoin="miter"/>
<path d="M107.9,427.62 L111.48,434.07 L104.32,434.07 Z" fill="#fff" stroke="#7030a0" stroke-width="1.0" stroke-linejoin="miter"/>
<path d="M138.6,418.02 L142.18,424.47 L135.02,424.47 Z" fill="#fff" stroke="#7030a0" stroke-width="1.0" stroke-linejoin="miter"/>
<path d="M169.3,416.12 L172.88,422.57 L165.72,422.57 Z" fill="#fff" stroke="#7030a0" stroke-width="1.0" stroke-linejoin="miter"/>
<path d="M200,411.72 L203.58,418.17 L196.42,418.17 Z" fill="#fff" stroke="#7030a0" stroke-width="1.0" stroke-linejoin="miter"/>
<path d="M230.7,403.12 L234.28,409.57 L227.12,409.57 Z" fill="#fff" stroke="#7030a0" stroke-width="1.0" stroke-linejoin="miter"/>
<line x1="319.1" y1="409.32" x2="536.21" y2="409.32" stroke="#e7e7e7" stroke-width="1"/>
<line x1="319.1" y1="386.34" x2="536.21" y2="386.34" stroke="#e7e7e7" stroke-width="1"/>
<line x1="319.1" y1="363.36" x2="536.21" y2="363.36" stroke="#e7e7e7" stroke-width="1"/>
<line x1="319.1" y1="340.38" x2="536.21" y2="340.38" stroke="#e7e7e7" stroke-width="1"/>
<line x1="319.1" y1="317.4" x2="536.21" y2="317.4" stroke="#e7e7e7" stroke-width="1"/>
<line x1="351.83" y1="317.4" x2="351.83" y2="432.3" stroke="#ececec" stroke-width="1"/>
<line x1="382.56" y1="317.4" x2="382.56" y2="432.3" stroke="#ececec" stroke-width="1"/>
<line x1="413.29" y1="317.4" x2="413.29" y2="432.3" stroke="#ececec" stroke-width="1"/>
<line x1="444.02" y1="317.4" x2="444.02" y2="432.3" stroke="#ececec" stroke-width="1"/>
<line x1="474.75" y1="317.4" x2="474.75" y2="432.3" stroke="#ececec" stroke-width="1"/>
<line x1="505.48" y1="317.4" x2="505.48" y2="432.3" stroke="#ececec" stroke-width="1"/>
<line x1="536.21" y1="317.4" x2="536.21" y2="432.3" stroke="#ececec" stroke-width="1"/>
<line x1="321.1" y1="317.4" x2="321.1" y2="432.3" stroke="#d8d8d8" stroke-width="1"/>
<line x1="318.6" y1="432.3" x2="536.21" y2="432.3" stroke="#d8d8d8" stroke-width="1"/>
<text x="315.5" y="434.9" font-size="6.0" fill="#333333" stroke="#333333" stroke-width="0.22" text-anchor="end" >0.0</text>
<text x="315.5" y="411.92" font-size="6.0" fill="#333333" stroke="#333333" stroke-width="0.22" text-anchor="end" >0.1</text>
<text x="315.5" y="388.94" font-size="6.0" fill="#333333" stroke="#333333" stroke-width="0.22" text-anchor="end" >0.2</text>
<text x="315.5" y="365.96" font-size="6.0" fill="#333333" stroke="#333333" stroke-width="0.22" text-anchor="end" >0.3</text>
<text x="315.5" y="342.98" font-size="6.0" fill="#333333" stroke="#333333" stroke-width="0.22" text-anchor="end" >0.4</text>
<text x="315.5" y="320" font-size="6.0" fill="#333333" stroke="#333333" stroke-width="0.22" text-anchor="end" >0.5</text>
<text x="321.1" y="442.7" font-size="6.0" fill="#333333" stroke="#333333" stroke-width="0.22" text-anchor="middle" >500</text>
<text x="351.83" y="442.7" font-size="6.0" fill="#333333" stroke="#333333" stroke-width="0.22" text-anchor="middle" >550</text>
<text x="382.56" y="442.7" font-size="6.0" fill="#333333" stroke="#333333" stroke-width="0.22" text-anchor="middle" >600</text>
<text x="413.29" y="442.7" font-size="6.0" fill="#333333" stroke="#333333" stroke-width="0.22" text-anchor="middle" >650</text>
<text x="444.02" y="442.7" font-size="6.0" fill="#333333" stroke="#333333" stroke-width="0.22" text-anchor="middle" >700</text>
<text x="474.75" y="442.7" font-size="6.0" fill="#333333" stroke="#333333" stroke-width="0.22" text-anchor="middle" >750</text>
<text x="505.48" y="442.7" font-size="6.0" fill="#333333" stroke="#333333" stroke-width="0.22" text-anchor="middle" >800</text>
<text x="536.21" y="442.7" font-size="6.0" fill="#333333" stroke="#333333" stroke-width="0.22" text-anchor="middle" >850</text>
<text transform="translate(429,454.5) scale(0.89,1)" font-size="7.392" fill="#333333" stroke="#333333" stroke-width="0.22" text-anchor="middle" >Temperature (°C)</text>
<text transform="translate(303.3,374) rotate(-90) scale(0.9,1)" font-size="7.26" fill="#333333" stroke="#333333" stroke-width="0.22" text-anchor="middle">H<tspan font-size="4.3" dy="1.4">2</tspan><tspan dy="-1.4"> , CO produced (mol/ mol</tspan><tspan font-size="4.3" dy="1.4">Ni</tspan><tspan dy="-1.4">/ s)</tspan></text>
<text x="283.5" y="322.8" font-size="10.2" fill="#1a1a1a" stroke="#1a1a1a" stroke-width="0.3" text-anchor="start" >f)</text>
<path d="M351.7,426.5 C356.82,425.2 372.2,422.43 382.45,418.7 C392.7,414.97 402.95,410.02 413.2,404.1 C423.45,398.18 433.7,389.25 443.95,383.2 C454.2,377.15 464.45,371.45 474.7,367.8 C484.95,364.15 500.32,362.38 505.45,361.3" fill="none" stroke="#1670c8" stroke-width="1.45" stroke-linejoin="round"/>
<circle cx="351.7" cy="426.5" r="3.3" fill="#1670c8" stroke="#1670c8" stroke-width="0"/>
<circle cx="382.45" cy="418.7" r="3.3" fill="#1670c8" stroke="#1670c8" stroke-width="0"/>
<circle cx="413.2" cy="404.1" r="3.3" fill="#1670c8" stroke="#1670c8" stroke-width="0"/>
<circle cx="443.95" cy="383.2" r="3.3" fill="#1670c8" stroke="#1670c8" stroke-width="0"/>
<circle cx="474.7" cy="367.8" r="3.3" fill="#1670c8" stroke="#1670c8" stroke-width="0"/>
<circle cx="505.45" cy="361.3" r="3.3" fill="#1670c8" stroke="#1670c8" stroke-width="0"/>
<path d="M351.7,432 C356.82,431.83 372.2,432.38 382.45,431 C392.7,429.62 402.95,425.58 413.2,423.7 C423.45,421.82 433.7,420.67 443.95,419.7 C454.2,418.73 464.45,420.47 474.7,417.9 C484.95,415.33 500.32,406.57 505.45,404.3" fill="none" stroke="#7030a0" stroke-width="1.45" stroke-linejoin="round"/>
<path d="M351.7,428.3 L355.4,434.96 L348,434.96 Z" fill="#7030a0" stroke="#7030a0" stroke-width="0" stroke-linejoin="miter"/>
<path d="M382.45,427.3 L386.15,433.96 L378.75,433.96 Z" fill="#7030a0" stroke="#7030a0" stroke-width="0" stroke-linejoin="miter"/>
<path d="M413.2,420 L416.9,426.66 L409.5,426.66 Z" fill="#7030a0" stroke="#7030a0" stroke-width="0" stroke-linejoin="miter"/>
<path d="M443.95,416 L447.65,422.66 L440.25,422.66 Z" fill="#7030a0" stroke="#7030a0" stroke-width="0" stroke-linejoin="miter"/>
<path d="M474.7,414.2 L478.4,420.86 L471,420.86 Z" fill="#7030a0" stroke="#7030a0" stroke-width="0" stroke-linejoin="miter"/>
<path d="M505.45,400.6 L509.15,407.26 L501.75,407.26 Z" fill="#7030a0" stroke="#7030a0" stroke-width="0" stroke-linejoin="miter"/>
<path d="M351.7,417.4 C356.82,416.18 372.2,415.23 382.45,410.1 C392.7,404.97 402.95,393.78 413.2,386.6 C423.45,379.42 433.7,372.78 443.95,367 C454.2,361.22 464.45,357.25 474.7,351.9 C484.95,346.55 500.32,337.73 505.45,334.9" fill="none" stroke="#1670c8" stroke-width="1.45" stroke-dasharray="2.8,1.2" stroke-linejoin="round"/>
<circle cx="351.7" cy="417.4" r="3.05" fill="#fff" stroke="#1670c8" stroke-width="1.0"/>
<circle cx="382.45" cy="410.1" r="3.05" fill="#fff" stroke="#1670c8" stroke-width="1.0"/>
<circle cx="413.2" cy="386.6" r="3.05" fill="#fff" stroke="#1670c8" stroke-width="1.0"/>
<circle cx="443.95" cy="367" r="3.05" fill="#fff" stroke="#1670c8" stroke-width="1.0"/>
<circle cx="474.7" cy="351.9" r="3.05" fill="#fff" stroke="#1670c8" stroke-width="1.0"/>
<circle cx="505.45" cy="334.9" r="3.05" fill="#fff" stroke="#1670c8" stroke-width="1.0"/>
<path d="M351.7,432 C356.82,431.4 372.2,430.97 382.45,428.4 C392.7,425.83 402.95,419.22 413.2,416.6 C423.45,413.98 433.7,414.22 443.95,412.7 C454.2,411.18 464.45,410.47 474.7,407.5 C484.95,404.53 500.32,397 505.45,394.9" fill="none" stroke="#7030a0" stroke-width="1.45" stroke-dasharray="2.8,1.2" stroke-linejoin="round"/>
<path d="M351.7,428.42 L355.28,434.87 L348.12,434.87 Z" fill="#fff" stroke="#7030a0" stroke-width="1.0" stroke-linejoin="miter"/>
<path d="M382.45,424.82 L386.03,431.27 L378.87,431.27 Z" fill="#fff" stroke="#7030a0" stroke-width="1.0" stroke-linejoin="miter"/>
<path d="M413.2,413.02 L416.78,419.47 L409.62,419.47 Z" fill="#fff" stroke="#7030a0" stroke-width="1.0" stroke-linejoin="miter"/>
<path d="M443.95,409.12 L447.53,415.57 L440.37,415.57 Z" fill="#fff" stroke="#7030a0" stroke-width="1.0" stroke-linejoin="miter"/>
<path d="M474.7,403.92 L478.28,410.37 L471.12,410.37 Z" fill="#fff" stroke="#7030a0" stroke-width="1.0" stroke-linejoin="miter"/>
<path d="M505.45,391.32 L509.03,397.77 L501.87,397.77 Z" fill="#fff" stroke="#7030a0" stroke-width="1.0" stroke-linejoin="miter"/>
<line x1="53.2" y1="13" x2="72.5" y2="13" stroke="#1f8a1f" stroke-width="1.35"/>
<path d="M63.1,10.48 L65.62,13 L63.1,15.52 L60.58,13 Z" fill="#1f8a1f" stroke="#1f8a1f" stroke-width="0"/>
<text transform="translate(74,15.1) scale(0.95,1)" font-size="7.2" fill="#2a2a2a" stroke="#2a2a2a" stroke-width="0.16" text-anchor="start" >CZ/CFF</text>
<line x1="53.2" y1="23.85" x2="72.5" y2="23.85" stroke="#e8000c" stroke-width="1.35"/>
<rect x="60.85" y="21.6" width="4.5" height="4.5" fill="#e8000c" stroke="#e8000c" stroke-width="0"/>
<text transform="translate(74,25.95) scale(0.95,1)" font-size="7.2" fill="#2a2a2a" stroke="#2a2a2a" stroke-width="0.16" text-anchor="start" >Pt-CZ/CFF</text>
<line x1="53.2" y1="34.7" x2="72.5" y2="34.7" stroke="#1670c8" stroke-width="1.35"/>
<circle cx="63.1" cy="34.7" r="2.25" fill="#1670c8" stroke="#1670c8" stroke-width="0"/>
<text transform="translate(74,36.8) scale(0.95,1)" font-size="7.2" fill="#2a2a2a" stroke="#2a2a2a" stroke-width="0.16" text-anchor="start" >Ni-CZ/CFF</text>
<line x1="53.2" y1="45.55" x2="72.5" y2="45.55" stroke="#7030a0" stroke-width="1.35"/>
<path d="M63.1,43.03 L65.62,47.57 L60.58,47.57 Z" fill="#7030a0" stroke="#7030a0" stroke-width="0" stroke-linejoin="miter"/>
<text transform="translate(74,47.65) scale(0.95,1)" font-size="7.2" fill="#2a2a2a" stroke="#2a2a2a" stroke-width="0.16" text-anchor="start" >Pt-Ni-CZ/CFF</text>
<line x1="53.2" y1="56.4" x2="57.5" y2="56.4" stroke="#1f8a1f" stroke-width="1.35"/>
<line x1="68.2" y1="56.4" x2="72.5" y2="56.4" stroke="#1f8a1f" stroke-width="1.35"/>
<path d="M63.1,54.15 L65.35,56.4 L63.1,58.65 L60.85,56.4 Z" fill="#fff" stroke="#1f8a1f" stroke-width="1.0"/>
<text transform="translate(74,58.5) scale(0.95,1)" font-size="7.2" fill="#2a2a2a" stroke="#2a2a2a" stroke-width="0.16" text-anchor="start" >CZ/CFF</text>
<line x1="53.2" y1="67.25" x2="57.5" y2="67.25" stroke="#e8000c" stroke-width="1.35"/>
<line x1="68.2" y1="67.25" x2="72.5" y2="67.25" stroke="#e8000c" stroke-width="1.35"/>
<rect x="61.1" y="65.25" width="4" height="4" fill="#fff" stroke="#e8000c" stroke-width="1.0"/>
<text transform="translate(74,69.35) scale(0.95,1)" font-size="7.2" fill="#2a2a2a" stroke="#2a2a2a" stroke-width="0.16" text-anchor="start" >Pt-CZ/CFF</text>
<line x1="53.2" y1="78.1" x2="57.5" y2="78.1" stroke="#1670c8" stroke-width="1.35"/>
<line x1="68.2" y1="78.1" x2="72.5" y2="78.1" stroke="#1670c8" stroke-width="1.35"/>
<circle cx="63.1" cy="78.1" r="2" fill="#fff" stroke="#1670c8" stroke-width="1.0"/>
<text transform="translate(74,80.2) scale(0.95,1)" font-size="7.2" fill="#2a2a2a" stroke="#2a2a2a" stroke-width="0.16" text-anchor="start" >Ni-CZ/CFF</text>
<line x1="53.2" y1="88.95" x2="57.5" y2="88.95" stroke="#7030a0" stroke-width="1.35"/>
<line x1="68.2" y1="88.95" x2="72.5" y2="88.95" stroke="#7030a0" stroke-width="1.35"/>
<path d="M63.1,86.58 L65.47,90.85 L60.73,90.85 Z" fill="#fff" stroke="#7030a0" stroke-width="1.0" stroke-linejoin="miter"/>
<text transform="translate(74,91.05) scale(0.95,1)" font-size="7.2" fill="#2a2a2a" stroke="#2a2a2a" stroke-width="0.16" text-anchor="start" >Pt-Ni-CZ/CFF</text>
<path d="M115.6,10.8 Q121.6,10.8 121.6,13.8 L121.6,45.5 Q121.6,48.5 115.6,48.5 M121.6,29.5 L127.6,29.5" fill="none" stroke="#b4b4b4" stroke-width="1.15"/>
<text x="129.2" y="33.1" font-size="8.2" fill="#202020" stroke="#202020" stroke-width="0.25" text-anchor="start" transform="translate(15.5,0) scale(0.88,1)">CH<tspan font-size="5" dy="1.5">4</tspan></text>
<path d="M116.8,54.3 Q122.8,54.3 122.8,57.3 L122.8,89.6 Q122.8,92.6 116.8,92.6 M122.8,73.4 L128.8,73.4" fill="none" stroke="#b4b4b4" stroke-width="1.15"/>
<text x="130.6" y="77.2" font-size="8.2" fill="#202020" stroke="#202020" stroke-width="0.25" text-anchor="start" transform="translate(15.67,0) scale(0.88,1)">CO<tspan font-size="5" dy="1.5">2</tspan></text>
<line x1="327.6" y1="12.5" x2="347.6" y2="12.5" stroke="#1f8a1f" stroke-width="1.35"/>
<path d="M337.2,9.92 L339.78,12.5 L337.2,15.08 L334.62,12.5 Z" fill="#1f8a1f" stroke="#1f8a1f" stroke-width="0"/>
<text transform="translate(348.7,15.05) scale(0.95,1)" font-size="7.1" fill="#2a2a2a" stroke="#2a2a2a" stroke-width="0.16" text-anchor="start" >CZ/CFF</text>
<line x1="327.6" y1="22.22" x2="347.6" y2="22.22" stroke="#e8000c" stroke-width="1.35"/>
<rect x="334.9" y="19.92" width="4.6" height="4.6" fill="#e8000c" stroke="#e8000c" stroke-width="0"/>
<text transform="translate(348.7,24.77) scale(0.95,1)" font-size="7.1" fill="#2a2a2a" stroke="#2a2a2a" stroke-width="0.16" text-anchor="start" >Pt-CZ/CFF</text>
<line x1="327.6" y1="31.94" x2="347.6" y2="31.94" stroke="#1670c8" stroke-width="1.35"/>
<circle cx="337.2" cy="31.94" r="2.3" fill="#1670c8" stroke="#1670c8" stroke-width="0"/>
<text transform="translate(348.7,34.49) scale(0.95,1)" font-size="7.1" fill="#2a2a2a" stroke="#2a2a2a" stroke-width="0.16" text-anchor="start" >Ni-CZ/CFF</text>
<line x1="327.6" y1="41.66" x2="347.6" y2="41.66" stroke="#7030a0" stroke-width="1.35"/>
<path d="M337.2,39.08 L339.78,43.72 L334.62,43.72 Z" fill="#7030a0" stroke="#7030a0" stroke-width="0" stroke-linejoin="miter"/>
<text transform="translate(348.7,44.21) scale(0.95,1)" font-size="7.1" fill="#2a2a2a" stroke="#2a2a2a" stroke-width="0.16" text-anchor="start" >Pt-Ni-CZ/CFF</text>
<line x1="327.6" y1="51.38" x2="347.6" y2="51.38" stroke="#1f8a1f" stroke-width="1.35" stroke-dasharray="2.6,1.3"/>
<path d="M337.2,49.24 L339.34,51.38 L337.2,53.52 L335.06,51.38 Z" fill="#fff" stroke="#1f8a1f" stroke-width="1.0"/>
<text transform="translate(348.7,53.93) scale(0.95,1)" font-size="7.1" fill="#2a2a2a" stroke="#2a2a2a" stroke-width="0.16" text-anchor="start" >CZ/CFF</text>
<line x1="327.6" y1="61.1" x2="347.6" y2="61.1" stroke="#e8000c" stroke-width="1.35" stroke-dasharray="2.6,1.3"/>
<rect x="335.3" y="59.2" width="3.8" height="3.8" fill="#fff" stroke="#e8000c" stroke-width="1.0"/>
<text transform="translate(348.7,63.65) scale(0.95,1)" font-size="7.1" fill="#2a2a2a" stroke="#2a2a2a" stroke-width="0.16" text-anchor="start" >Pt-CZ/CFF</text>
<line x1="327.6" y1="70.82" x2="347.6" y2="70.82" stroke="#1670c8" stroke-width="1.35" stroke-dasharray="2.6,1.3"/>
<circle cx="337.2" cy="70.82" r="1.9" fill="#fff" stroke="#1670c8" stroke-width="1.0"/>
<text transform="translate(348.7,73.37) scale(0.95,1)" font-size="7.1" fill="#2a2a2a" stroke="#2a2a2a" stroke-width="0.16" text-anchor="start" >Ni-CZ/CFF</text>
<line x1="327.6" y1="80.54" x2="347.6" y2="80.54" stroke="#7030a0" stroke-width="1.35" stroke-dasharray="2.6,1.3"/>
<path d="M337.2,78.28 L339.46,82.35 L334.94,82.35 Z" fill="#fff" stroke="#7030a0" stroke-width="1.0" stroke-linejoin="miter"/>
<text transform="translate(348.7,83.09) scale(0.95,1)" font-size="7.1" fill="#2a2a2a" stroke="#2a2a2a" stroke-width="0.16" text-anchor="start" >Pt-Ni-CZ/CFF</text>
<path d="M392.2,7.9 Q398.2,7.9 398.2,10.9 L398.2,42.9 Q398.2,45.9 392.2,45.9 M398.2,26.4 L404.2,26.4" fill="none" stroke="#b4b4b4" stroke-width="1.15"/>
<text x="408.5" y="30.6" font-size="8.2" fill="#202020" stroke="#202020" stroke-width="0.25" text-anchor="start" transform="translate(49.02,0) scale(0.88,1)">H<tspan font-size="5" dy="1.5">2</tspan></text>
<path d="M392.2,47.1 Q398.2,47.1 398.2,50.1 L398.2,82.1 Q398.2,85.1 392.2,85.1 M398.2,55.4 L404.2,55.4" fill="none" stroke="#b4b4b4" stroke-width="1.15"/>
<text x="405.5" y="59.4" font-size="8.2" fill="#202020" stroke="#202020" stroke-width="0.25" text-anchor="start" transform="translate(48.66,0) scale(0.88,1)">CO</text>
</svg>
</body></html>
